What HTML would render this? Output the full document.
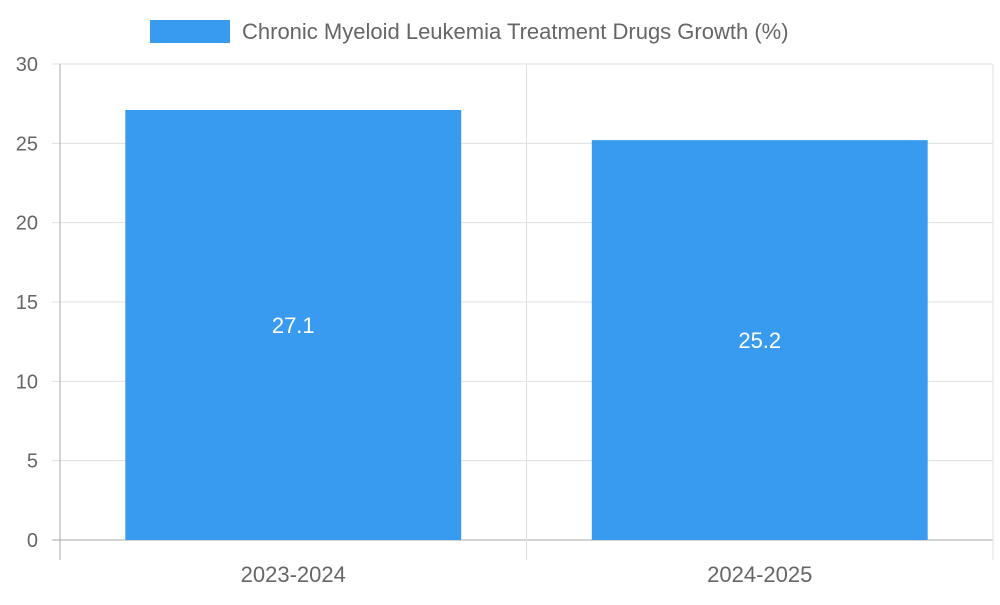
<!DOCTYPE html>
<html><head><meta charset="utf-8"><style>
body{margin:0;background:#fff;font-family:"Liberation Sans",sans-serif}
</style></head><body>
<svg width="1000" height="600" xmlns="http://www.w3.org/2000/svg">
<g id="legend">
<rect x="150" y="20" width="80" height="23" fill="#389bf0"/>
<text x="242" y="39" font-size="22" fill="#666" font-family="Liberation Sans, sans-serif">Chronic Myeloid Leukemia Treatment Drugs Growth (%)</text>
</g>
<g id="grid"></g><g id="bars"></g><g id="labels"></g>
</svg>
<script>
const categories=["2023-2024","2024-2025"];
const values=[27.1,25.2];
const yTicks=[0,5,10,15,20,25,30];
const NS="http://www.w3.org/2000/svg";
const L=60,R=993,T=64,B=540,yMax=30;
const y=v=>B-(v/yMax)*(B-T);
const bw=(R-L)/categories.length;
const x=i=>L+bw*i;
function mk(p,t,a,txt){const e=document.createElementNS(NS,t);for(const k in a)e.setAttribute(k,a[k]);if(txt!==undefined)e.textContent=txt;p.appendChild(e);return e;}
const g=document.getElementById('grid'),bars=document.getElementById('bars'),lab=document.getElementById('labels');
yTicks.forEach(t=>{
 const l=mk(g,'line',{x1:L-8,x2:R,y1:y(t),y2:y(t),stroke:t===0?'#aaa':'#e0e0e0','stroke-width':1});
 
 
 const tx=mk(g,'text',{x:38,y:y(t)+7,'text-anchor':'end','font-size':20,fill:'#666','font-family':'Liberation Sans, sans-serif'},String(t));
 
 
});
for(let i=0;i<=categories.length;i++){
 const l=mk(g,'line',{x1:x(i),x2:x(i),y1:T,y2:B+20,stroke:i===0?'#aaa':'#e0e0e0','stroke-width':1});
 
 
}
categories.forEach((c,i)=>{
 const cx=x(i)+bw/2,w=bw*0.72;
 const r=mk(bars,'rect',{x:cx-w/2,y:y(values[i]),width:w,height:B-y(values[i]),fill:'#389bf0'});
 
 
 const v=mk(lab,'text',{x:cx,y:(y(values[i])+B)/2+8,'text-anchor':'middle','font-size':22,fill:'#fff','font-family':'Liberation Sans, sans-serif'},String(values[i]));
 
 
 const t=mk(lab,'text',{x:cx,y:582,'text-anchor':'middle','font-size':22,fill:'#666','font-family':'Liberation Sans, sans-serif'},c);
 
 
});
</script>
</body></html>
